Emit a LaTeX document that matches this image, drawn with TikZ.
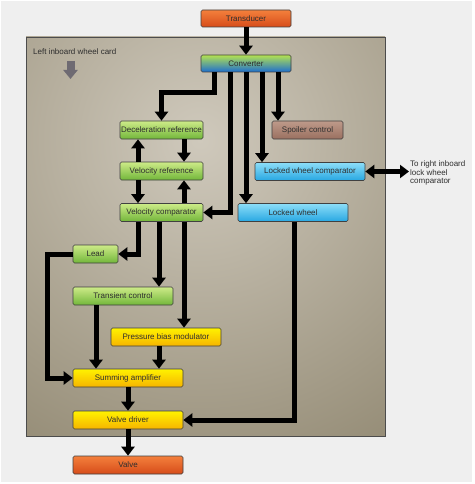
\documentclass[tikz,border=0pt]{standalone}
\usepackage{fontspec}
\setmainfont{Liberation Sans}
\usetikzlibrary{arrows.meta}

\definecolor{bggray}{HTML}{EFEFEF}
\definecolor{cardhi}{HTML}{CFC9BC}
\definecolor{cardlo}{HTML}{8E856E}
\definecolor{cardarrow}{HTML}{6E6A72}
\definecolor{orTop}{HTML}{F4803C}
\definecolor{orBot}{HTML}{D64C1A}
\definecolor{grTop}{HTML}{CDEB88}
\definecolor{grBot}{HTML}{72B63A}
\definecolor{yeTop}{HTML}{FFF200}
\definecolor{yeBot}{HTML}{F6B400}
\definecolor{blTop}{HTML}{8CDDF8}
\definecolor{blBot}{HTML}{28A8E2}
\definecolor{brTop}{HTML}{BE9A8A}
\definecolor{brBot}{HTML}{9A7060}
\definecolor{cvTop}{HTML}{B4E250}
\definecolor{cvMid}{HTML}{18B07E}
\definecolor{cvBot}{HTML}{1C6ED0}
\definecolor{txt}{HTML}{2E2E2E}

\begin{document}
\begin{tikzpicture}[x=1pt,y=-1pt,
  box/.style={draw=black!75,line width=0.6pt,rounded corners=1.5pt,
    minimum height=18pt,inner sep=1pt,text=txt,font=\fontsize{8}{9}\selectfont},
  greenbox/.style={box,top color=grTop,bottom color=grBot,minimum width=#1},
  yellowbox/.style={box,top color=yeTop,bottom color=yeBot,minimum width=#1},
  bluebox/.style={box,top color=blTop,bottom color=blBot,minimum width=#1},
  orangebox/.style={box,top color=orTop,bottom color=orBot,minimum width=#1},
  flow/.style={line width=5pt,-{Triangle[length=9pt,width=13pt]}},
  twoway/.style={line width=5pt,{Triangle[length=9pt,width=13pt]}-{Triangle[length=9pt,width=13pt]}}
]
  \useasboundingbox (0,0) rectangle (474,484);
  % Page background
  \fill[white] (0,0) rectangle (474,484);
  \fill[bggray] (1,1) rectangle (472,482);

  % Wheel card
  \begin{scope}
    \clip (26,37) rectangle (385,436);
    \shade[inner color=cardhi,outer color=cardlo] (200,140) circle (400);
  \end{scope}
  \draw[black!70,line width=0.8pt] (26,37) rectangle (385,436);
  \node[anchor=west,inner sep=1pt,text=txt,font=\fontsize{8}{9}\selectfont] (cardlbl) at (32,52) {Left inboard wheel card};
  \draw[cardarrow,line width=8pt,-{Triangle[length=9pt,width=14pt]}] (70.5,61) -- (70.5,79);

  % Blocks
  \node[orangebox=90pt, minimum height=17pt] (tdcr) at (246,18.5) {Transducer};
  \node[box,top color=cvTop,middle color=cvMid,bottom color=cvBot,minimum width=90pt,minimum height=17pt] (conv) at (246,63.5) {Converter};
  \node[greenbox=83pt] (decel) at (161.5,130) {Deceleration reference};
  \node[box,top color=brTop,bottom color=brBot,minimum width=71pt] (spoil) at (307.5,130) {Spoiler control};
  \node[greenbox=83pt] (vref) at (161.5,171) {Velocity reference};
  \node[greenbox=83pt] (vcomp) at (161.5,212.5) {Velocity comparator};
  \node[bluebox=110pt] (lwcomp) at (310,171.5) {Locked wheel comparator};
  \node[bluebox=110pt] (lwheel) at (293,212.5) {Locked wheel};
  \node[greenbox=45pt] (lead) at (95.5,254) {Lead};
  \node[greenbox=100pt] (trans) at (123,296) {Transient control};
  \node[yellowbox=110pt] (pbm) at (166,337) {Pressure bias modulator};
  \node[yellowbox=110pt] (sumamp) at (128,378) {Summing amplifier};
  \node[yellowbox=110pt] (vdrv) at (128,420) {Valve driver};
  \node[orangebox=110pt] (valve) at (128,465) {Valve};
  \node[anchor=west,align=left,inner sep=1pt,text=txt,font=\fontsize{8}{8.5}\selectfont] (rlwc) at (409,173) {To right inboard\\lock wheel\\comparator};

  % Converter outputs
  \draw[flow] (tdcr.south) -- (conv.north);
  \draw[flow] ([xshift=-32pt]conv.south) -- ++(0,20) -| (decel.north);
  \draw[flow] ([xshift=-16pt]conv.south) |- (vcomp.east);
  \draw[flow] (conv.south) -- (conv.south |- lwheel.north);
  \draw[flow] ([xshift=16pt]conv.south) -- ([xshift=16pt]conv.south |- lwcomp.north);
  \draw[flow] ([xshift=32pt]conv.south) -- ([xshift=32pt]conv.south |- spoil.north);
  \draw[twoway] (lwcomp.east) -- (lwcomp.east -| rlwc.west);

  % Reference loop
  \draw[flow] ([xshift=-23.5pt]vref.north) -- ([xshift=-23.5pt]decel.south);
  \draw[flow] ([xshift=22.5pt]decel.south) -- ([xshift=22.5pt]vref.north);
  \draw[flow] ([xshift=-23.5pt]vref.south) -- ([xshift=-23.5pt]vcomp.north);
  \draw[flow] ([xshift=22.5pt]vcomp.north) -- ([xshift=22.5pt]vref.south);

  % Comparator outputs
  \draw[flow] ([xshift=-23.5pt]vcomp.south) |- (lead.east);
  \draw[flow] ([xshift=-2.5pt]vcomp.south) -- ([xshift=-2.5pt]vcomp.south |- trans.north);
  \draw[flow] ([xshift=22.5pt]vcomp.south) -- ([xshift=22.5pt]vcomp.south |- pbm.north);

  % Summing and drive
  \draw[flow] (lead.west) -- ++(-25,0) |- (sumamp.west);
  \draw[flow] ([xshift=-27pt]trans.south) -- ([xshift=-27pt]trans.south |- sumamp.north);
  \draw[flow] ([xshift=-7pt]pbm.south) -- ([xshift=-7pt]pbm.south |- sumamp.north);
  \draw[flow] (sumamp.south) -- (vdrv.north);
  \draw[flow] ([xshift=1pt]lwheel.south) |- (vdrv.east);
  \draw[flow] (vdrv.south) -- (valve.north);
\end{tikzpicture}
\end{document}
